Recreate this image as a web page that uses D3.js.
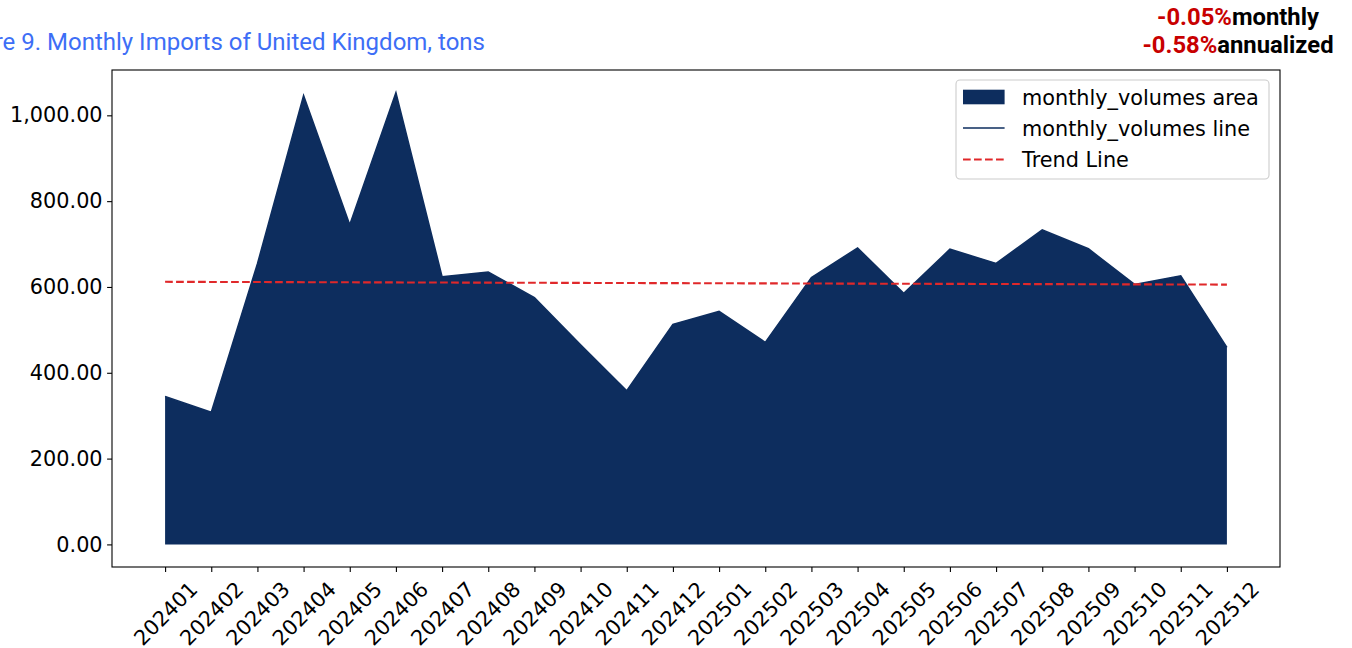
<!DOCTYPE html>
<html>
<head>
<meta charset="utf-8">
<script src="https://cdn.jsdelivr.net/npm/d3@7"></script>
<style>
  html, body { margin: 0; padding: 0; background: #ffffff; }
  svg { display: block; }
</style>
</head>
<body>
<svg id="chart" width="1352" height="648"></svg>
<script>
// ---- data ----
const months = ["202401","202402","202403","202404","202405","202406","202407","202408","202409","202410","202411","202412",
                "202501","202502","202503","202504","202505","202506","202507","202508","202509","202510","202511","202512"];
const monthlyVolumes = [345, 308, 654, 1046, 745, 1053, 624, 635, 575, 465, 358, 513,
                        543, 471, 622, 691, 585, 688, 655, 733, 689, 606, 626, 459];
const trendMonths = ["202401", "202512"];
const trendValues = [612, 605.5];
const yTicks = [0, 200, 400, 600, 800, 1000];
const titleText = "Figure 9. Monthly Imports of United Kingdom, tons";
const monthlyRate = "-0.05%";
const annualRate = "-0.58%";
const legendLabels = ["monthly_volumes area", "monthly_volumes line", "Trend Line"];

// ---- layout ----
const svg = d3.select("#chart");
const L = 112, R = 1280, T = 70, B = 567;
const navy = "#0d2d5e";
const tickFont = "DejaVu Sans, sans-serif";
const fs = 20.8;

const n = months.length;
const pad = (n - 1) * 0.05;
const x = d3.scaleLinear().domain([-pad, n - 1 + pad]).range([L, R]);
const vmax = d3.max(monthlyVolumes);
const ypad = vmax * 0.05;
const y = d3.scaleLinear().domain([-ypad, vmax + ypad]).range([B, T]);
const idx = m => months.indexOf(m);

// area
const area = d3.area()
  .x((d, i) => x(i))
  .y0(y(0))
  .y1(d => y(d));
svg.append("path")
  .datum(monthlyVolumes)
  .attr("d", area)
  .attr("fill", navy)
  .attr("stroke", "none");

// line
const line = d3.line().x((d, i) => x(i)).y(d => y(d));
svg.append("path")
  .datum(monthlyVolumes)
  .attr("d", line)
  .attr("fill", "none")
  .attr("stroke", navy)
  .attr("stroke-width", 1.5);

// trend line
svg.append("path")
  .datum(trendMonths.map((m, i) => [idx(m), trendValues[i]]))
  .attr("d", d3.line().x(d => x(d[0])).y(d => y(d[1])))
  .attr("fill", "none")
  .attr("stroke", "#e0282a")
  .attr("stroke-width", 2.1)
  .attr("stroke-dasharray", "7.7,3.3");

// frame
svg.append("rect")
  .attr("x", L).attr("y", T)
  .attr("width", R - L).attr("height", B - T)
  .attr("fill", "none")
  .attr("stroke", "#000")
  .attr("stroke-width", 1.1);

// y axis
const yAxis = d3.axisLeft(y)
  .tickValues(yTicks)
  .tickFormat(d3.format(",.2f"))
  .tickSize(4.9)
  .tickPadding(4.5);
const gy = svg.append("g").attr("transform", `translate(${L},0)`).call(yAxis);
gy.select(".domain").remove();
gy.selectAll("line").attr("stroke", "#000").attr("stroke-width", 1.1);
gy.selectAll("text")
  .attr("font-family", tickFont)
  .attr("font-size", fs)
  .attr("fill", "#000");

// x axis
const xAxis = d3.axisBottom(x)
  .tickValues(d3.range(n))
  .tickFormat(i => months[i])
  .tickSize(4.9);
const gx = svg.append("g").attr("transform", `translate(0,${B})`).call(xAxis);
gx.select(".domain").remove();
gx.selectAll("line").attr("stroke", "#000").attr("stroke-width", 1.1);
gx.selectAll("text")
  .attr("font-family", tickFont)
  .attr("font-size", fs)
  .attr("fill", "#000")
  .attr("text-anchor", "middle")
  .attr("y", 0)
  .attr("dy", "0.35em")
  .attr("transform", "translate(0,46.5) rotate(-45)");

// title
svg.append("text")
  .attr("x", 485).attr("y", 49.5)
  .attr("text-anchor", "end")
  .attr("font-family", "Roboto, sans-serif")
  .attr("font-size", 24)
  .attr("fill", "#3d6ef6")
  .text(titleText);

// rates annotation
const ann = [[monthlyRate, "monthly", 25], [annualRate, "annualized", 53]];
ann.forEach(a => {
  const t = svg.append("text")
    .attr("x", 1238).attr("y", a[2])
    .attr("text-anchor", "middle")
    .attr("font-family", "Roboto, sans-serif")
    .attr("font-weight", "bold")
    .attr("font-size", 23.8);
  t.append("tspan").attr("fill", "#c80000").text(a[0]);
  t.append("tspan").attr("fill", "#000").text(a[1]);
});

// legend
const lg = svg.append("g");
lg.append("rect")
  .attr("x", 956).attr("y", 80)
  .attr("width", 313).attr("height", 99)
  .attr("rx", 4).attr("ry", 4)
  .attr("fill", "#fff").attr("fill-opacity", 0.8)
  .attr("stroke", "#cccccc").attr("stroke-width", 1.1);
const rowY = [97, 128, 159.5];
lg.append("rect")
  .attr("x", 963).attr("y", rowY[0] - 7.3)
  .attr("width", 41.6).attr("height", 14.6)
  .attr("fill", navy);
lg.append("line")
  .attr("x1", 963).attr("x2", 1004.6)
  .attr("y1", rowY[1]).attr("y2", rowY[1])
  .attr("stroke", navy).attr("stroke-width", 1.5);
lg.append("line")
  .attr("x1", 963).attr("x2", 1004.6)
  .attr("y1", rowY[2]).attr("y2", rowY[2])
  .attr("stroke", "#e0282a").attr("stroke-width", 2.1)
  .attr("stroke-dasharray", "7.7,3.3");
legendLabels.forEach((lab, i) => {
  lg.append("text")
    .attr("x", 1022).attr("y", rowY[i] + 7.5)
    .attr("font-family", tickFont)
    .attr("font-size", fs)
    .attr("fill", "#000")
    .text(lab);
});
</script>
</body>
</html>
